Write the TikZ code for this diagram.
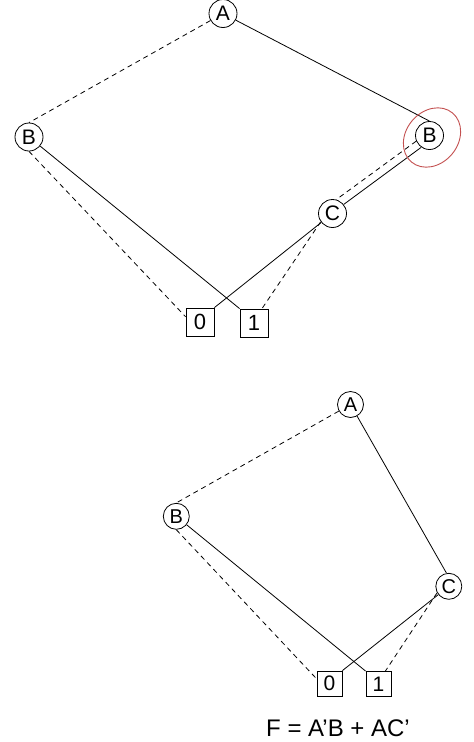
\documentclass[tikz,border=0pt]{standalone}
\usepackage{fontspec}
\setmainfont{Liberation Sans}
\definecolor{redc}{RGB}{195,80,80}
\begin{document}
\begin{tikzpicture}[x=1pt,y=-1pt,
  vbig/.style={circle,draw,line width=0.8pt,inner sep=0pt,minimum size=28pt,font=\fontsize{21}{21}\selectfont},
  vsmall/.style={circle,draw,line width=0.8pt,inner sep=0pt,minimum size=26pt,font=\fontsize{20}{20}\selectfont},
  tbig/.style={rectangle,draw,line width=0.8pt,inner sep=0pt,minimum size=28pt,font=\fontsize{22}{22}\selectfont},
  tsmall/.style={rectangle,draw,line width=0.8pt,inner sep=0pt,minimum size=25pt,font=\fontsize{21}{21}\selectfont},
  solidedge/.style={draw,line width=0.8pt},
  dashedge/.style={draw,line width=0.8pt,dash pattern=on 5pt off 4pt}]
\useasboundingbox (0,0) rectangle (474,742);
% top diagram
\node[vbig] (At) at (223,13.5) {A};
\node[vbig] (Blt) at (29,137) {B};
\node[vbig] (Brt) at (429.5,135.5) {B};
\node[vbig] (Ct) at (332.5,213.5) {C};
\node[tbig] (z0t) at (200,322) {0};
\node[tbig] (o1t) at (254,323) {1};
\draw[dashedge] (At) -- (Blt.north);
\draw[solidedge] (At) -- (Brt.north);
\draw[dashedge] (Blt.south) -- (z0t.160);
\draw[solidedge] (Blt) -- (o1t.north west);
\draw[dashedge] (Brt.203) -- (Ct.75);
\draw[solidedge] (Brt.235) -- (Ct.39);
\draw[solidedge] (Ct) -- (z0t.north east);
\draw[dashedge] (Ct.215) -- (o1t.61);
\draw[redc,line width=0.9pt] (432,137.5) ellipse[x radius=32pt,y radius=26pt,rotate=50];
% bottom diagram
\node[vsmall] (Ab) at (350.5,404.5) {A};
\node[vsmall] (Bb) at (176.3,516.3) {B};
\node[vsmall] (Cb) at (448.8,586.3) {C};
\node[tsmall] (z0b) at (329.5,683.5) {0};
\node[tsmall] (o1b) at (378.5,684) {1};
\draw[dashedge] (Ab) -- (Bb.north);
\draw[solidedge] (Ab) -- (Cb.100);
\draw[dashedge] (Bb.south) -- (z0b.160);
\draw[solidedge] (Bb) -- (o1b.north west);
\draw[solidedge] (Cb) -- (z0b.north east);
\draw[dashedge] (Cb.209) -- (o1b.62);
\node[font=\fontsize{24}{24}\selectfont,inner sep=0pt] (F) at (338,728) {F = A’B + AC’};
\end{tikzpicture}
\end{document}
